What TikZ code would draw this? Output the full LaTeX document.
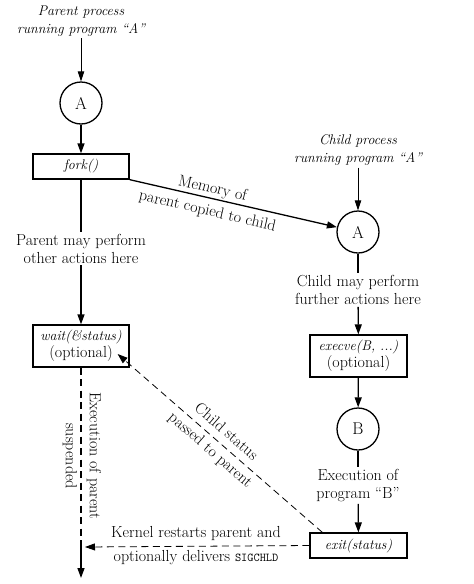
\documentclass[tikz,border=0pt]{standalone}
\usetikzlibrary{arrows.meta,calc}
\begin{document}
\begin{tikzpicture}[x=1pt,y=-1pt,
  lbl/.style={font=\fontsize{16}{18}\selectfont, align=center, inner sep=2pt},
  ilbl/.style={font=\fontsize{14}{18}\selectfont\itshape, align=center, inner sep=2pt},
  circ/.style={draw, circle, line width=1.3pt, minimum size=42pt, inner sep=0pt, font=\fontsize{17}{18}\selectfont},
  box/.style={draw, rectangle, line width=1.3pt, minimum width=96pt, inner sep=0pt, align=center, font=\fontsize{16}{17}\selectfont},
  arr/.style={-{Triangle[length=10pt,width=7pt]}, line width=1.3pt},
  tarr/.style={-{Triangle[length=10pt,width=6.5pt]}, line width=0.8pt},
  ln/.style={line width=1.3pt},
  dsh/.style={dash pattern=on 7pt off 4.5pt, line width=0.8pt},
  dln/.style={dash pattern=on 7pt off 4.5pt, line width=1.3pt}
]
\useasboundingbox (0,0) rectangle (474,584);

% parent column
\node[ilbl] (ptop) at (81,21) {Parent process\\running program ``A''};
\node[circ] (A1) at (81,103) {A};
\node[box, minimum height=25pt] (fork) at (81,166.5) {\fontsize{14}{17}\selectfont\itshape fork()};
\node[lbl] (pact) at (81,248.5) {Parent may perform\\other actions here};
\node[box, minimum height=42pt] (wait) at (81,346) {{\fontsize{14}{17}\selectfont\itshape wait(\&status)}\\(optional)};
\node[lbl, rotate=-90] (susp) at (82,456) {Execution of parent\\[6pt]suspended};
\coordinate (kmid) at (81,545);
\coordinate (pend) at (81,578);
\coordinate (kend) at (85,547);

% child column
\node[ilbl] (ctop) at (358,150) {Child process\\running program ``A''};
\node[circ] (A2) at (358,232) {A};
\node[lbl] (cact) at (358,290) {Child may perform\\further actions here};
\node[box, minimum width=97pt, minimum height=42pt] (execve) at (358.5,356) {{\fontsize{14}{17}\selectfont\itshape execve(B, ...)}\\(optional)};
\node[circ] (B) at (358,429) {B};
\node[lbl] (bexe) at (358,485.5) {Execution of\\program ``B''};
\node[box, minimum width=97pt, minimum height=25pt] (exit) at (358.5,545.5) {\fontsize{14}{17}\selectfont\itshape exit(status)};

\coordinate (sfrom) at ($(exit.north west)+(13,0)$);
\coordinate (sto) at ($(wait.east)+(-12,8)$);

% parent connectors
\draw[tarr] (ptop) -- (A1);
\draw[arr] (A1) -- (fork);
\draw[ln] (fork) -- (pact);
\draw[arr] (pact) -- (wait);
\draw[dln] (wait) -- (kmid);
\draw[arr] (kmid) -- (pend);

% fork to child
\draw[arr] (fork.south east) -- node[lbl, sloped, pos=0.39, yshift=-2pt] {Memory of\\[5pt]parent copied to child} (A2);

% child connectors
\draw[tarr] (ctop) -- (A2);
\draw[ln] (A2) -- (cact);
\draw[arr] (cact) -- (execve);
\draw[arr] (execve) -- (B);
\draw[ln] (B) -- (bexe);
\draw[arr] (bexe) -- (exit);

% status and kernel
\draw[dsh, -{Triangle[length=10pt,width=7pt]}] (sfrom) -- node[lbl, sloped, pos=0.51] {Child status\\[6pt]passed to parent} (sto);
\draw[dsh, -{Triangle[length=10pt,width=7pt]}] (exit.west) -- (kend);
\node[lbl] (kern) at (196,545.5) {Kernel restarts parent and\\[6pt]optionally delivers {\ttfamily\fontsize{12}{14}\selectfont SIGCHLD}};
\end{tikzpicture}
\end{document}
